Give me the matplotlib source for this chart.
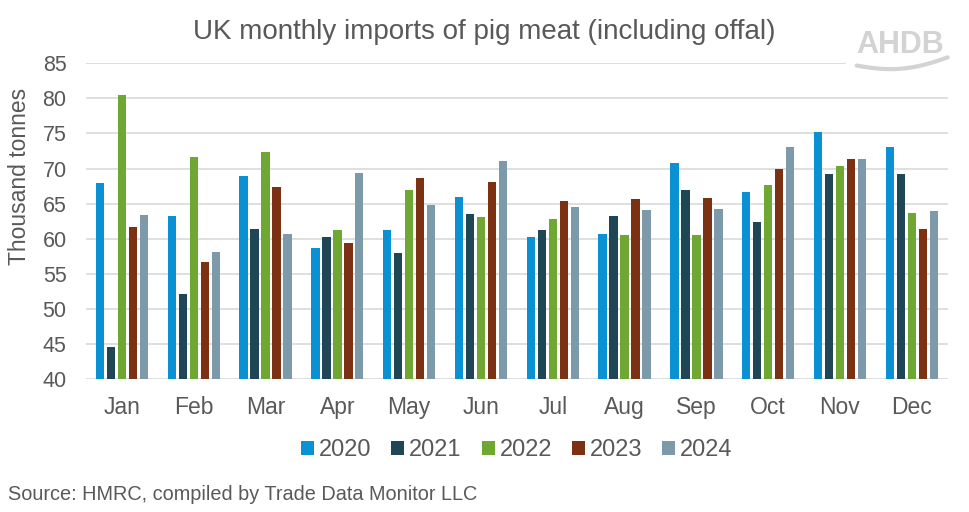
import numpy as np
import matplotlib.pyplot as plt
from matplotlib.patches import Rectangle
from matplotlib.lines import Line2D

months = ['Jan', 'Feb', 'Mar', 'Apr', 'May', 'Jun',
          'Jul', 'Aug', 'Sep', 'Oct', 'Nov', 'Dec']
years = ['2020', '2021', '2022', '2023', '2024']

# thousand tonnes
imports_2020 = [68.0, 63.3, 68.9, 58.7, 61.2, 65.9, 60.2, 60.7, 70.8, 66.7, 75.2, 73.1]
imports_2021 = [44.5, 52.1, 61.4, 60.3, 58.0, 63.5, 61.3, 63.2, 67.0, 62.4, 69.2, 69.2]
imports_2022 = [80.5, 71.6, 72.3, 61.2, 67.0, 63.1, 62.8, 60.5, 60.5, 67.7, 70.3, 63.7]
imports_2023 = [61.6, 56.7, 67.4, 59.4, 68.7, 68.1, 65.3, 65.6, 65.8, 70.0, 71.3, 61.4]
imports_2024 = [63.4, 58.1, 60.7, 69.3, 64.8, 71.1, 64.5, 64.1, 64.3, 73.0, 71.4, 64.0]

series = [imports_2020, imports_2021, imports_2022, imports_2023, imports_2024]
colours = ['#0991D3', '#1F4656', '#6EA731', '#7D3113', '#7D9AAA']

text_grey = '#595959'
plt.rcParams['font.family'] = ['Liberation Sans', 'DejaVu Sans']

fig = plt.figure(figsize=(9.69, 5.12), dpi=100)
ax = fig.add_axes([0.0888, 0.2598, 0.8892, 0.6166])

x = np.arange(len(months))
step = 0.153
width = 0.116
for i, (vals, col, yr) in enumerate(zip(series, colours, years)):
    ax.bar(x + (i - 2) * step, vals, width=width, color=col, label=yr, zorder=3)

ax.set_xlim(-0.5, len(months) - 0.5)
ax.set_ylim(40, 85)
ax.set_yticks(np.arange(40, 86, 5))
ax.set_xticks(x)
ax.set_xticklabels(months)
ax.grid(axis='y', color='#D9D9D9', linewidth=1.2, zorder=0)
for s in ax.spines.values():
    s.set_visible(False)
ax.tick_params(axis='both', length=0, colors=text_grey)
ax.tick_params(axis='x', pad=12, labelsize=16.5)
ax.tick_params(axis='y', pad=14, labelsize=15.5)
ax.set_ylabel('Thousand tonnes', fontsize=16.5, color=text_grey)
ax.yaxis.set_label_coords(-0.064, 0.64)

fig.text(0.5, 0.937, 'UK monthly imports of pig meat (including offal)',
         ha='center', va='center', fontsize=20, color=text_grey)

leg = ax.legend(loc='center', bbox_to_anchor=(0.5, -0.225), ncol=5,
                frameon=False, fontsize=17, handlelength=0.55, handleheight=0.55,
                handletextpad=0.2, columnspacing=0.85, labelcolor=text_grey)

fig.text(0.008, 0.035, 'Source: HMRC, compiled by Trade Data Monitor LLC',
         ha='left', va='center', fontsize=14.3, color=text_grey)

# AHDB logo (white patch covers the top gridline)
fig.patches.append(Rectangle((0.873, 0.845), 0.12, 0.13, transform=fig.transFigure,
                             facecolor='white', edgecolor='none', zorder=5))
fig.text(0.929, 0.912, 'AHDB', ha='center', va='center', fontsize=22,
         fontweight='bold', color='#D3D3D3', zorder=6)
t = np.linspace(0, 1, 60)
wx = 0.884 + 0.094 * t
wy = 0.872 - 0.010 * np.sin(np.pi * t) + 0.016 * t ** 2
fig.lines.append(Line2D(wx, wy, transform=fig.transFigure, color='#D3D3D3',
                        linewidth=3, solid_capstyle='round', zorder=6))

fig.savefig('out.png', dpi=100)
